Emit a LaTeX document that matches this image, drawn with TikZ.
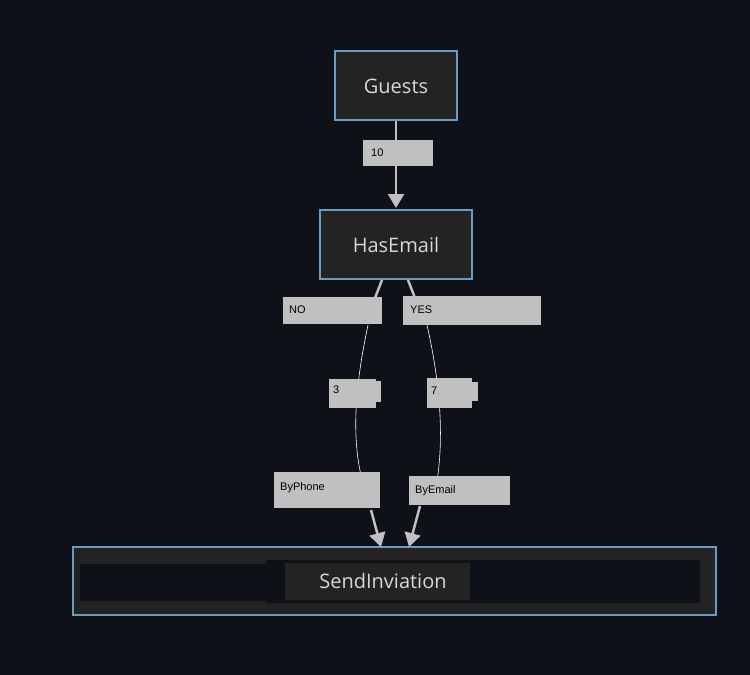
\documentclass[tikz,border=0pt]{standalone}
\usepackage{fontspec}
\setmainfont{Liberation Sans}
\newfontfamily\nodefont{Open Sans}
\usetikzlibrary{arrows.meta}
\definecolor{bg}{HTML}{0E1118}
\definecolor{nfill}{HTML}{222322}
\definecolor{nstroke}{HTML}{6A9BC3}
\definecolor{lbl}{HTML}{C0C0C0}
\definecolor{ntext}{HTML}{D8D8D8}
\begin{document}
\begin{tikzpicture}[x=1pt,y=-1pt,
  nodebox/.style={draw=nstroke,line width=1.2pt,fill=nfill},
  lblbox/.style={fill=lbl,inner sep=0pt},
  lbltext/.style={anchor=west,font=\fontsize{11}{13}\selectfont,text=black,inner sep=0pt},
  thick edge/.style={draw=lbl,line width=2.5pt},
  thin edge/.style={draw=white,line width=0.6pt},
  tip/.style={-{Triangle[length=14pt,width=16pt]}}]
\fill[bg] (0,0) rectangle (750,675);
\useasboundingbox (0,0) rectangle (750,675);
% nodes
\draw[nodebox] (335,51) rectangle (457,120);
\node[font=\nodefont\fontsize{20}{24}\selectfont,text=ntext] (guests) at (396,86) {Guests};
\draw[nodebox] (320,210) rectangle (472,279);
\node[font=\nodefont\fontsize{20}{24}\selectfont,text=ntext] (has) at (396,245) {HasEmail};
\draw[nodebox] (73,547) rectangle (716,615);
\fill[bg] (80,564) rectangle (266,601);
\fill[bg] (266,560) rectangle (700,603);
\fill[nfill] (285,563) rectangle (470,600);
\node[font=\nodefont\fontsize{20}{24}\selectfont,text=ntext] (send) at (383,581) {SendInviation};
% coordinates
\coordinate (g1) at (396,121);
\coordinate (h1) at (396,208);
\coordinate (nA) at (382,280); \coordinate (nB) at (375,298);
\coordinate (yA) at (408,280); \coordinate (yB) at (415,298);
\coordinate (nC) at (368,325); \coordinate (nD) at (372,508);
\coordinate (yC) at (427,325); \coordinate (yD) at (432,505);
\coordinate (nE) at (371,510); \coordinate (sL) at (381,547);
\coordinate (yE) at (420,506); \coordinate (sR) at (409,547);
% edges
\draw[thick edge,tip] (g1) -- (h1);
\draw[thick edge] (nA) -- (nB);
\draw[thick edge] (yA) -- (yB);
\draw[thin edge] (nC) .. controls (352,400) and (350,460) .. (nD);
\draw[thin edge] (yC) .. controls (444,400) and (444,460) .. (yD);
\draw[thick edge,tip] (nE) -- (sL);
\draw[thick edge,tip] (yE) -- (sR);
% labels
\fill[lbl] (363,140) rectangle (433,166);
\node[lbltext] (l10) at (371,153) {10};
\fill[lbl] (283,297) rectangle (382,324);
\node[lbltext] (lno) at (289,310) {NO};
\fill[lbl] (403,296) rectangle (541,325);
\node[lbltext] (lyes) at (410,310) {YES};
\fill[lbl] (329,379) rectangle (376,408);
\fill[lbl] (376,381) rectangle (381,402);
\node[lbltext] (l3) at (333,390) {3};
\fill[lbl] (427,378) rectangle (472,408);
\fill[lbl] (472,382) rectangle (478,401);
\node[lbltext] (l7) at (431,391) {7};
\fill[lbl] (274,472) rectangle (380,508);
\node[lbltext] (lph) at (280,488) {ByPhone};
\fill[lbl] (409,476) rectangle (510,505);
\node[lbltext] (lem) at (415,491) {ByEmail};
\end{tikzpicture}
\end{document}
